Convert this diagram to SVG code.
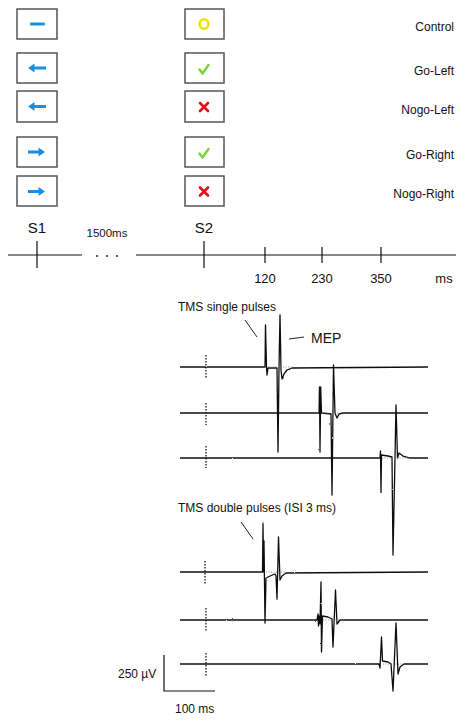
<svg xmlns="http://www.w3.org/2000/svg" width="474" height="726" viewBox="0 0 474 726">
  <style>
    .box{fill:#fff;stroke:#555;stroke-width:1.5}
    .lbl{font-family:"Liberation Sans",Arial,sans-serif;font-size:12px;fill:#111}
    .tl{stroke:#111;stroke-width:1.2;fill:none}
    .tr{stroke:#111;stroke-width:1.3;fill:none;stroke-linejoin:round}
    .dot{stroke:#111;stroke-width:1.3;stroke-dasharray:1.5 1.5;fill:none}
    .gd{stroke:#777;stroke-width:0.8;stroke-dasharray:1 1.5;fill:none}
    .blue{fill:#1e8fe0}
    .ptr{stroke:#222;stroke-width:1;fill:none}
  </style>
  <defs>
    <filter id="jit" x="-5%" y="-5%" width="110%" height="110%">
      <feTurbulence type="fractalNoise" baseFrequency="0.35 0.35" numOctaves="1" seed="3" result="n"/>
      <feDisplacementMap in="SourceGraphic" in2="n" scale="1.8" xChannelSelector="R" yChannelSelector="G"/>
    </filter>
  </defs>
  <rect width="474" height="726" fill="#fff"/>

  <!-- stimulus rows -->
  <g id="row-control">
    <rect class="box" x="17" y="9" width="40" height="30"/>
    <rect class="blue" x="30" y="22.5" width="15" height="3" rx="1"/>
    <rect class="box" x="185" y="9" width="39" height="30"/>
    <ellipse cx="204" cy="24" rx="4.3" ry="4.8" fill="none" stroke="#f2e400" stroke-width="2.6"/>
    <text class="lbl" x="454" y="31" text-anchor="end">Control</text>
  </g>
  <g id="row-go-left">
    <rect class="box" x="17" y="53" width="40" height="30"/>
    <polygon class="blue" points="28,68 34.5,63.5 34.5,66.5 46,66.5 46,69.5 34.5,69.5 34.5,72.5"/>
    <rect class="box" x="185" y="53" width="39" height="30"/>
    <path d="M199.5,69.5 L202.5,73.5 L208.5,65" fill="none" stroke="#78d23c" stroke-width="2.4" stroke-linecap="round" stroke-linejoin="round"/>
    <text class="lbl" x="454" y="75" text-anchor="end">Go-Left</text>
  </g>
  <g id="row-nogo-left">
    <rect class="box" x="17" y="91" width="40" height="31"/>
    <polygon class="blue" points="28,106.5 34.5,102 34.5,105 46,105 46,108 34.5,108 34.5,111"/>
    <rect class="box" x="185" y="91" width="39" height="31"/>
    <path d="M200,103 L208,111 M208,103 L200,111" stroke="#e0101a" stroke-width="2.6" stroke-linecap="round"/>
    <text class="lbl" x="454" y="114" text-anchor="end">Nogo-Left</text>
  </g>
  <g id="row-go-right">
    <rect class="box" x="17" y="137" width="40" height="30"/>
    <polygon class="blue" points="45,152 38.5,147.5 38.5,150.5 28,150.5 28,153.5 38.5,153.5 38.5,156.5"/>
    <rect class="box" x="185" y="137" width="39" height="30"/>
    <path d="M199.5,153.5 L202.5,157.5 L208.5,149" fill="none" stroke="#78d23c" stroke-width="2.4" stroke-linecap="round" stroke-linejoin="round"/>
    <text class="lbl" x="454" y="159" text-anchor="end">Go-Right</text>
  </g>
  <g id="row-nogo-right">
    <rect class="box" x="17" y="176" width="40" height="30"/>
    <polygon class="blue" points="45,191.5 38.5,187 38.5,190 28,190 28,193 38.5,193 38.5,196"/>
    <rect class="box" x="185" y="176" width="39" height="30"/>
    <path d="M200,187.5 L208,195.5 M208,187.5 L200,195.5" stroke="#e0101a" stroke-width="2.6" stroke-linecap="round"/>
    <text class="lbl" x="454" y="198" text-anchor="end">Nogo-Right</text>
  </g>

  <!-- timeline -->
  <g id="timeline">
    <path class="tl" d="M8,255 H82 M136,255 H456 M37,241 V268 M204,241 V268 M265,247 V263 M322,247 V263 M381,247 V263"/>
    <circle cx="97" cy="256" r="0.9" fill="#111"/>
    <circle cx="107" cy="256" r="0.9" fill="#111"/>
    <circle cx="117" cy="256" r="0.9" fill="#111"/>
    <text x="37" y="233" text-anchor="middle" font-family="Liberation Sans,Arial,sans-serif" font-size="15" fill="#111">S1</text>
    <text x="204" y="233" text-anchor="middle" font-family="Liberation Sans,Arial,sans-serif" font-size="15" fill="#111">S2</text>
    <text x="107" y="237" text-anchor="middle" font-family="Liberation Sans,Arial,sans-serif" font-size="11.5" fill="#111">1500ms</text>
    <text x="265" y="283" text-anchor="middle" font-family="Liberation Sans,Arial,sans-serif" font-size="13" fill="#111">120</text>
    <text x="322" y="283" text-anchor="middle" font-family="Liberation Sans,Arial,sans-serif" font-size="13" fill="#111">230</text>
    <text x="381" y="283" text-anchor="middle" font-family="Liberation Sans,Arial,sans-serif" font-size="13" fill="#111">350</text>
    <text x="444" y="283" text-anchor="middle" font-family="Liberation Sans,Arial,sans-serif" font-size="13" fill="#111">ms</text>
  </g>

  <!-- traces -->
  <g id="traces-single">
    <g filter="url(#jit)">
      <path class="tr" d="M180,367 L265,367 L265.5,325 L266.5,367 L267,375 L268,368 L277,368 L278,452 L279,368 L280,315 L281,370 L282,379 L284,374 L287,370 L292,368 L428,367"/>
      <path class="tr" d="M180,413 L319,413 L319.5,387 L320,452 L320.7,387 L321.5,413 L331,414 L332,495 L333.5,365 L335,413 L337,418 L339,414 L343,413 L428,413"/>
      <path class="tr" d="M180,458 L380,458 L380.5,451 L381,492 L381.5,455 L388,456 L392,457 L393,555 L395,458 L396,405 L397.5,458 L399,453 L403,456 L410,458 L428,458"/>
    </g>
    <path class="dot" d="M206,355 V379 M206,403 V425 M206,446 V468"/>
    <path class="gd" d="M268,367 H292 M322,413 H342 M382,458 H408"/>
  </g>
  <g id="traces-double">
    <g filter="url(#jit)">
      <path class="tr" d="M180,572 L262.5,572 L263,523 L263.5,572 L264,541 L265,623 L266,578 L270,576 L275,574 L276,576 L277,599 L278.5,537 L280,580 L282,576 L286,573 L428,572"/>
      <path class="tr" d="M180,620 L317,620 L318,614 L318.5,626 L319,616 L320,624 L321,582 L321.5,652 L322.5,616 L328,617 L332,619 L333,647 L335.5,590 L337,624 L340,620 L345,620 L428,620"/>
      <path class="tr" d="M180,664 L379,664 L380,668 L381.5,637 L382.5,661 L388,662 L391,664 L393,691 L396,623 L398,674 L400,667 L404,664 L428,664"/>
    </g>
    <path class="dot" d="M205,561 V584 M206,608 V632 M206,653 V677"/>
    <path class="gd" d="M266,572 H286 M323,620 H344 M383,664 H403"/>
  </g>

  <!-- annotations -->
  <g id="annotations">
    <text class="lbl" x="178" y="311">TMS single pulses</text>
    <text x="311" y="343" font-family="Liberation Sans,Arial,sans-serif" font-size="14" fill="#111">MEP</text>
    <text class="lbl" x="178" y="512">TMS double pulses (ISI 3 ms)</text>
    <path class="ptr" d="M245,320 L257,337 M289,339 L304,337 M241,522 L253,539"/>
  </g>

  <!-- scale bar -->
  <g id="scalebar">
    <path class="tl" d="M164,655 V691 H215"/>
    <text class="lbl" x="118" y="678">250 µV</text>
    <text class="lbl" x="175" y="713">100 ms</text>
  </g>
</svg>
